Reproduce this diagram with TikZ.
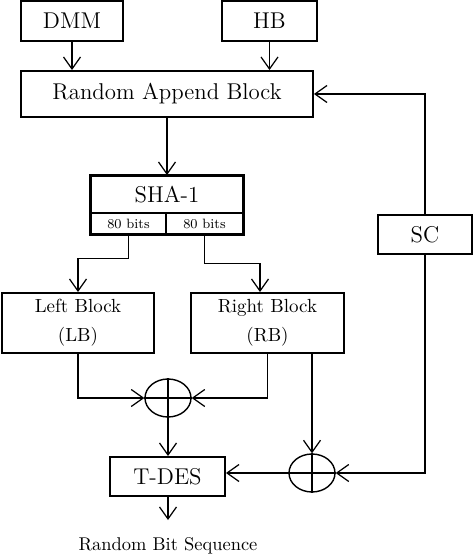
\documentclass[tikz,border=0pt]{standalone}
\usetikzlibrary{arrows.meta,shapes.geometric}
\tikzset{
	blk/.style = {draw, line width = 1.1pt, inner sep = 0pt, font = \fontsize{13}{15}\selectfont},
	sblk/.style = {draw, line width = 1.1pt, inner sep = 0pt, align = center, font = \fontsize{10.8}{16.5}\selectfont},
	bits/.style = {draw, line width = 0.7pt, inner sep = 0pt, font = \fontsize{7.7}{9}\selectfont},
	xorop/.style = {draw, ellipse, line width = 0.8pt, inner sep = 0pt, minimum width = 0.92cm, minimum height = 0.76cm},
	con/.style = {line width = 0.7pt, -{Straight Barb[length=2.4mm,width=3.4mm]}}
}
\begin{document}
\begin{tikzpicture}[x = 0.02cm, y = -0.02cm]
	\useasboundingbox (0,0) rectangle (474,557);
	\node (dmm) at (72,21) [blk, minimum width = 2.04cm, minimum height = 0.8cm] {DMM};
	\node (hb) at (269.5,21) [blk, minimum width = 1.9cm, minimum height = 0.8cm] {HB};
	\node (rab) at (167,94) [blk, minimum width = 5.84cm, minimum height = 0.92cm] {Random Append Block};
	\node (sha) at (167,194.5) [blk, minimum width = 3.04cm, minimum height = 0.74cm] {SHA-1};
	\node (lbits) at (128.5,223.5) [bits, minimum width = 1.5cm, minimum height = 0.42cm] {80 bits};
	\node (rbits) at (204.5,223.5) [bits, minimum width = 1.54cm, minimum height = 0.42cm] {80 bits};
	\draw [line width = 1.1pt] (sha.north west) rectangle (rbits.south east);
	\node (lb) at (78,323) [sblk, minimum width = 3.04cm, minimum height = 1.2cm] {Left Block\\(LB)};
	\node (rb) at (267.5,323) [sblk, minimum width = 3.06cm, minimum height = 1.2cm] {Right Block\\(RB)};
	\node (sc) at (425,234.5) [blk, minimum width = 1.88cm, minimum height = 0.78cm] {SC};
	\node (ox1) at (168,398) [xorop] {};
	\node (ox2) at (312,473) [xorop] {};
	\draw [line width = 0.8pt] (ox1.north) -- (ox1.south) (ox1.west) -- (ox1.east);
	\draw [line width = 0.8pt] (ox2.north) -- (ox2.south) (ox2.west) -- (ox2.east);
	\node (tdes) at (167.5,476.5) [blk, minimum width = 2.3cm, minimum height = 0.78cm] {T-DES};
	\node (rbs) at (168,546) [font = \fontsize{10.5}{12}\selectfont] {Random Bit Sequence};
	\coordinate (out) at (168,520);
	\draw [con] (dmm.south) -- (dmm.south |- rab.north);
	\draw [con] (hb.south) -- (hb.south |- rab.north);
	\draw [con] (rab.south) -- (sha.north);
	\draw [con] (lbits.south) -- ++(0,24) -| (lb.north);
	\draw [con] (rbits.south) -- ++(0,29) -| ([xshift=-0.15cm]rb.north);
	\draw [con] (lb.south) |- (ox1.west);
	\draw [con] (rb.south) |- (ox1.east);
	\draw [con] (rb.south -| ox2.north) -- (ox2.north);
	\draw [con] (ox1.south) -- (ox1.south |- tdes.north);
	\draw [con] (sc.north) |- (rab.east);
	\draw [con] (sc.south) |- (ox2.east);
	\draw [con] (ox2.west) -- (ox2.west -| tdes.east);
	\draw [con] (tdes.south -| out) -- (out);
\end{tikzpicture}
\end{document}
